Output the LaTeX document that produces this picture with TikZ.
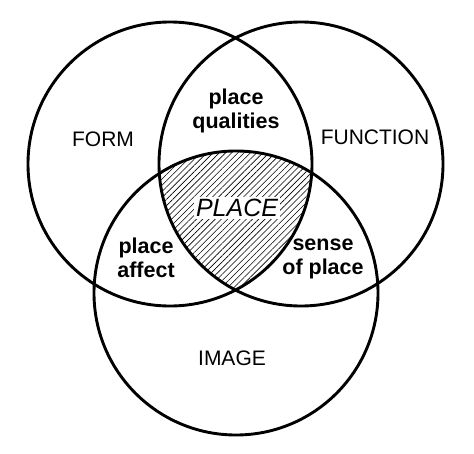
\documentclass[tikz,border=0pt]{standalone}
\usepackage{fontspec}
\setmainfont{Liberation Sans}
\usetikzlibrary{patterns.meta}

\begin{document}
\begin{tikzpicture}[x=1pt,y=-1pt,
	ring/.style={line width=2.9pt},
	lbl/.style={font=\fontsize{21}{24}\selectfont, align=center, inner sep=0pt},
	blbl/.style={lbl, font=\fontsize{21.5}{24.5}\selectfont\bfseries}]
	
	\useasboundingbox (0,0) rectangle (474,453);
	
	\coordinate (form) at (170,164);
	\coordinate (func) at (301,164);
	\coordinate (image) at (236,293);
	
	% hatched core
	\begin{scope}
		\clip (form) circle (142pt);
		\clip (func) circle (142pt);
		\fill[pattern={Lines[angle=45,distance=4.4pt,line width=0.6pt]}] (image) circle (142pt);
	\end{scope}
	
	\draw[ring] (form) circle (142pt);
	\draw[ring] (func) circle (142pt);
	\draw[ring] (image) circle (142pt);
	
	\node[lbl] (formlbl) at (103,139) {FORM};
	\node[lbl] (funclbl) at (375,137) {FUNCTION};
	\node[lbl] (imagelbl) at (232,358) {IMAGE};
	
	\node[blbl] (qual) at (236,111) {place\\qualities};
	\node[blbl] (affect) at (146,258) {place\\affect};
	\node[blbl] (sense) at (323,259) {sense\\of place};
	
	\node[lbl, font=\fontsize{25}{28}\selectfont\itshape, fill=white, inner sep=2pt] (place) at (237,208) {PLACE};
	
\end{tikzpicture}
\end{document}
